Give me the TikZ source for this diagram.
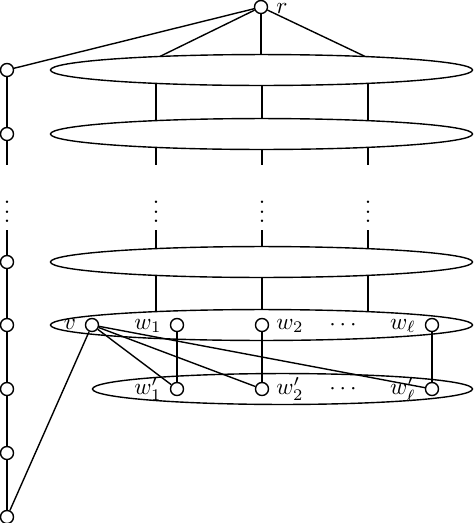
\documentclass[tikz,border=0pt]{standalone}
\usetikzlibrary{shapes.geometric}
\begin{document}
\begin{tikzpicture}[x=0.43pt,y=-0.43pt,line width=0.6pt,
  vtx/.style={circle,draw,fill=white,minimum size=5.6pt,inner sep=0pt},
  lbl/.style={inner sep=0pt},
  lay/.style={ellipse,draw,fill=white,minimum width=181.5pt,minimum height=13.3pt,inner sep=0pt}]
\useasboundingbox (0,0) rectangle (474,523);
% vertical links between layers (covered by the white layers)
\foreach \x in {156,262,368} {
  \draw (\x,70) -- (\x,165);
  \draw (\x,230) -- (\x,325);
}
% root
\node[vtx] (r) at (261,7) {};
\node[lbl] (rl) at (282,8) {$r$};
% layers
\node[lay] (e1) at (261.5,70) {};
\node[lay] (e2) at (261.5,134) {};
\node[lay] (e3) at (261.5,262) {};
\node[lay] (e4) at (261.5,325) {};
\node[lay,minimum width=163.4pt] (e5) at (282.5,389) {};
% left column
\foreach \i/\y in {1/70,2/134,3/262,4/325,5/389,6/453,7/517}
  \node[vtx] (L\i) at (7,\y) {};
\coordinate (a1) at (7,165);
\coordinate (a2) at (7,230);
\node[lbl] (dl) at (7,205) {$\vdots$};
\foreach \x [count=\k] in {156,262,368}
  \node[lbl] (dc\k) at (\x,205) {$\vdots$};
\coordinate (c0) at (r |- e1.north);
\coordinate (c1) at (160,56.4);
\coordinate (c2) at (365,56.4);
\draw (r) -- (c0);
\draw (r) -- (c1);
\draw (r) -- (c2);
\draw (r) -- (L1);
\draw (L1) -- (L2) -- (a1);
\draw (a2) -- (L3) -- (L4) -- (L5) -- (L6) -- (L7);
% bottom vertices
\node[vtx] (v) at (92,325) {};
\node[lbl] (vl) at (70,324) {$v$};
\node[vtx] (w1) at (177,325) {};
\node[lbl] (w1l) at (148,326) {$w_1$};
\node[vtx] (w2) at (262,325) {};
\node[lbl] (w2l) at (290,326) {$w_2$};
\node[lbl] (d1) at (343,325) {$\cdots$};
\node[vtx] (wl) at (432,325) {};
\node[lbl] (wll) at (403,326) {$w_\ell$};
\node[vtx] (w1p) at (177,389) {};
\node[lbl] (w1pl) at (148,389) {$w_1'$};
\node[vtx] (w2p) at (262,389) {};
\node[lbl] (w2pl) at (290,389) {$w_2'$};
\node[lbl] (d2) at (343,389) {$\cdots$};
\node[vtx] (wlp) at (432,389) {};
\node[lbl] (wlpl) at (403,389) {$w_\ell'$};
\draw (w1) -- (w1p);
\draw (w2) -- (w2p);
\draw (wl) -- (wlp);
\draw (v) -- (w1p);
\draw (v) -- (w2p);
\draw (v) -- (wlp);
\draw (v) -- (L7);
\end{tikzpicture}
\end{document}
